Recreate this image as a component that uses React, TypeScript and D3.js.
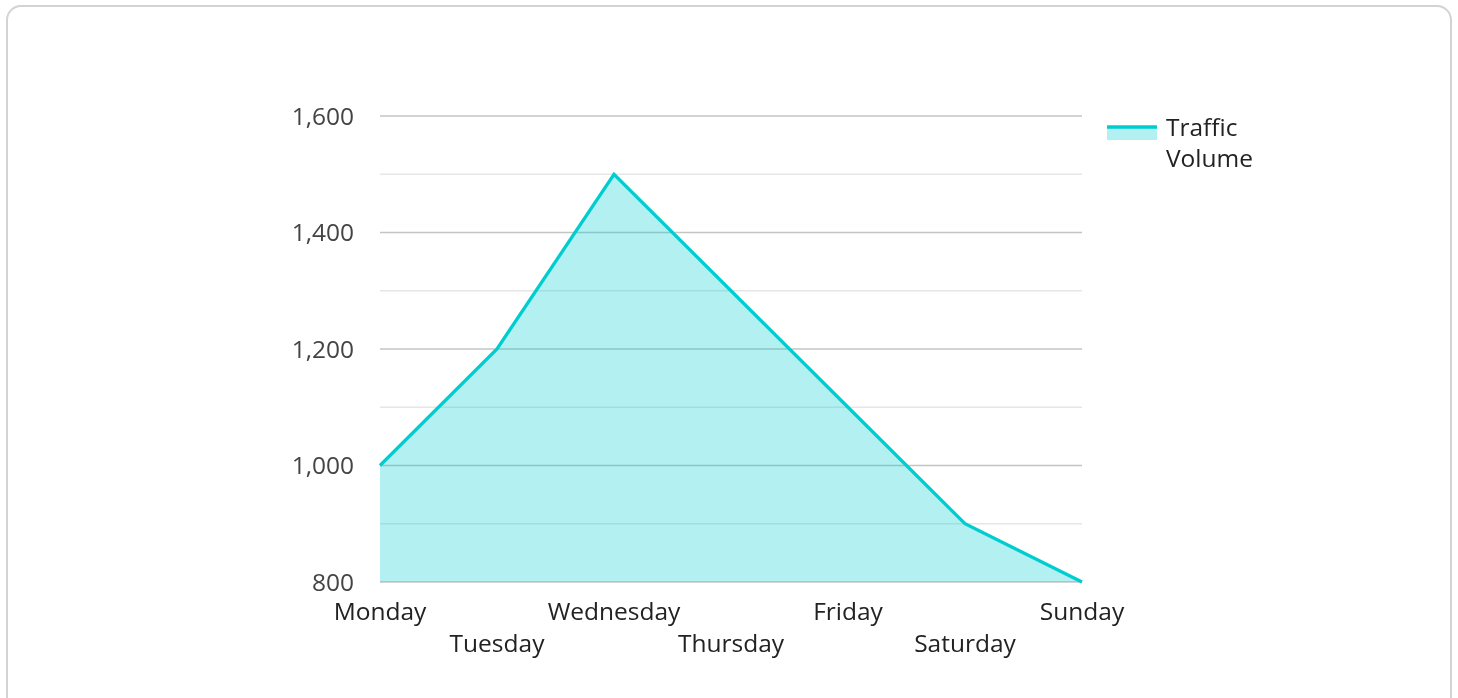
import React, { useEffect, useRef } from 'react';
import * as d3 from 'd3';

const days = ['Monday', 'Tuesday', 'Wednesday', 'Thursday', 'Friday', 'Saturday', 'Sunday'];
const traffic = [1000, 1200, 1500, 1300, 1100, 900, 800];
const majorTicks = [800, 1000, 1200, 1400, 1600];
const minorTicks = [900, 1100, 1300, 1500];
const seriesName = ['Traffic', 'Volume'];

const W = 1458;
const H = 698;
const PLOT = { left: 380, right: 1082, top: 116, bottom: 582 };
const LINE_COLOR = '#00cdd0';
const FONT = '"Open Sans", "Noto Sans", sans-serif';

const App = () => {
    const ref = useRef<SVGSVGElement>(null);

    useEffect(() => {
        const svg = d3.select(ref.current);
        svg.selectAll('*').remove();

        // card
        svg.append('rect')
            .attr('x', 7).attr('y', 6)
            .attr('width', 1444).attr('height', 710)
            .attr('rx', 14)
            .attr('fill', '#fff')
            .attr('stroke', '#d3d3d3')
            .attr('stroke-width', 2);

        const x = d3.scalePoint<string>().domain(days).range([PLOT.left, PLOT.right]);
        const y = d3.scaleLinear().domain([800, 1600]).range([PLOT.bottom, PLOT.top]);

        // grid
        svg.append('g').selectAll('line.minor')
            .data(minorTicks).enter().append('line')
            .attr('x1', PLOT.left).attr('x2', PLOT.right)
            .attr('y1', d => y(d)).attr('y2', d => y(d))
            .attr('stroke', '#e6e6e6').attr('stroke-width', 1.3);

        svg.append('g').selectAll('line.major')
            .data(majorTicks).enter().append('line')
            .attr('x1', PLOT.left).attr('x2', PLOT.right)
            .attr('y1', d => y(d)).attr('y2', d => y(d))
            .attr('stroke', '#c4c4c4').attr('stroke-width', 1.3);

        // y labels
        svg.append('g').selectAll('text')
            .data(majorTicks).enter().append('text')
            .attr('x', 354)
            .attr('y', d => y(d))
            .attr('dy', '0.36em')
            .attr('text-anchor', 'end')
            .style('font-family', FONT)
            .style('font-size', '24.5px')
            .attr('fill', '#444')
            .text(d => d3.format(',')(d));

        // area + line
        const area = d3.area<number>()
            .x((_, i) => x(days[i])!)
            .y0(y(800))
            .y1(d => y(d));
        svg.append('path')
            .datum(traffic)
            .attr('d', area)
            .attr('fill', LINE_COLOR)
            .attr('fill-opacity', 0.3);

        const line = d3.line<number>()
            .x((_, i) => x(days[i])!)
            .y(d => y(d));
        svg.append('path')
            .datum(traffic)
            .attr('d', line)
            .attr('fill', 'none')
            .attr('stroke', LINE_COLOR)
            .attr('stroke-width', 3.3);

        // x labels, staggered
        svg.append('g').selectAll('text')
            .data(days).enter().append('text')
            .attr('x', d => x(d)!)
            .attr('y', (_, i) => i % 2 === 0 ? 620 : 652)
            .attr('text-anchor', 'middle')
            .style('font-family', FONT)
            .style('font-size', '24.5px')
            .attr('fill', '#222')
            .text(d => d);

        // legend
        const lg = svg.append('g');
        lg.append('rect')
            .attr('x', 1107).attr('y', 126)
            .attr('width', 50).attr('height', 14)
            .attr('fill', LINE_COLOR).attr('fill-opacity', 0.3);
        lg.append('line')
            .attr('x1', 1107).attr('x2', 1157)
            .attr('y1', 127).attr('y2', 127)
            .attr('stroke', LINE_COLOR).attr('stroke-width', 3.5);
        lg.selectAll('text')
            .data(seriesName).enter().append('text')
            .attr('x', 1166)
            .attr('y', (_, i) => 136 + i * 31)
            .style('font-family', FONT)
            .style('font-size', '24.5px')
            .attr('fill', '#222')
            .text(d => d);
    }, []);

    return (
        <div style={{ position: 'fixed', left: 0, top: 0 }}>
            <svg ref={ref} width={W} height={H} style={{ display: 'block' }}></svg>
        </div>
    );
};

export default App;
